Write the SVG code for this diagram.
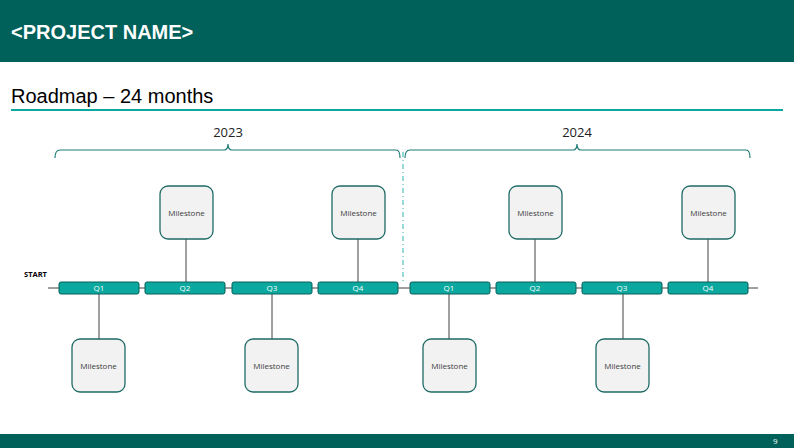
<svg xmlns="http://www.w3.org/2000/svg" width="794" height="448" viewBox="0 0 794 448">
<style>
text{font-family:"Open Sans","Liberation Sans",sans-serif}
text.h{font-family:"Liberation Sans",Arial,sans-serif}
.q{fill:#0AA89E;stroke:#0B5F59;stroke-width:1}
.qt{fill:#fff;font-size:8px;text-anchor:middle}
.m{fill:#F2F2F2;stroke:#1E6B66;stroke-width:1.3}
.mt{fill:#404040;font-size:8px;text-anchor:middle}
.c{stroke:#404040;stroke-width:1;fill:none}
.br{stroke:#1E7B74;stroke-width:1.2;fill:none}
</style>
<rect width="794" height="448" fill="#fff"/>
<rect width="794" height="62" fill="#00605A"/>
<text class="h" x="11" y="39" font-size="20" font-weight="bold" fill="#fff">&lt;PROJECT NAME&gt;</text>
<text class="h" x="11" y="103" font-size="20" fill="#000">Roadmap – 24 months</text>
<rect x="11" y="109" width="772" height="2" fill="#0AA89E"/>
<rect y="434" width="794" height="14" fill="#00605A"/>
<text x="773" y="444" font-size="8" fill="#fff">9</text>
<text x="228" y="137" font-size="13" text-anchor="middle" fill="#222">2023</text>
<text x="577" y="137" font-size="13" text-anchor="middle" fill="#222">2024</text>
<path class="br" d="M55 158 Q55 150 60 150 L224 150 Q228 150 228 144 Q228 150 232 150 L396 150 Q400 150 400 158"/>
<path class="br" d="M405 158 Q405 150 410 150 L573 150 Q577 150 577 144 Q577 150 581 150 L746 150 Q750 150 750 158"/>
<line x1="403" y1="152" x2="403" y2="282" stroke="#2BB5AC" stroke-width="1" stroke-dasharray="5,3,1,3"/>
<text x="24" y="277" font-size="7.5" font-weight="bold" fill="#000">START</text>
<g id="connectors">
<line class="c" x1="48" y1="288" x2="758" y2="288" stroke="#777"/>
<line class="c" x1="186" y1="239" x2="186" y2="282"/>
<line class="c" x1="358" y1="239" x2="358" y2="282"/>
<line class="c" x1="535" y1="239" x2="535" y2="282"/>
<line class="c" x1="708" y1="239" x2="708" y2="282"/>
<line class="c" x1="99" y1="294" x2="99" y2="339"/>
<line class="c" x1="272" y1="294" x2="272" y2="339"/>
<line class="c" x1="449" y1="294" x2="449" y2="339"/>
<line class="c" x1="623" y1="294" x2="623" y2="339"/>
</g>
<g id="q1a"><rect class="q" x="59" y="282" width="80" height="12" rx="2"/><text class="qt" x="99" y="291">Q1</text></g>
<g id="q2a"><rect class="q" x="145" y="282" width="80" height="12" rx="2"/><text class="qt" x="185" y="291">Q2</text></g>
<g id="q3a"><rect class="q" x="232" y="282" width="80" height="12" rx="2"/><text class="qt" x="272" y="291">Q3</text></g>
<g id="q4a"><rect class="q" x="318" y="282" width="80" height="12" rx="2"/><text class="qt" x="358" y="291">Q4</text></g>
<g id="q1b"><rect class="q" x="410" y="282" width="80" height="12" rx="2"/><text class="qt" x="449" y="291">Q1</text></g>
<g id="q2b"><rect class="q" x="496" y="282" width="80" height="12" rx="2"/><text class="qt" x="535" y="291">Q2</text></g>
<g id="q3b"><rect class="q" x="582" y="282" width="80" height="12" rx="2"/><text class="qt" x="622" y="291">Q3</text></g>
<g id="q4b"><rect class="q" x="668" y="282" width="80" height="12" rx="2"/><text class="qt" x="708" y="291">Q4</text></g>
<g id="m1"><rect class="m" x="160" y="186" width="53" height="53" rx="8"/><text class="mt" x="186.5" y="216">Milestone</text></g>
<g id="m2"><rect class="m" x="332" y="186" width="53" height="53" rx="8"/><text class="mt" x="358.5" y="216">Milestone</text></g>
<g id="m3"><rect class="m" x="509" y="186" width="53" height="53" rx="8"/><text class="mt" x="535.5" y="216">Milestone</text></g>
<g id="m4"><rect class="m" x="682" y="186" width="53" height="53" rx="8"/><text class="mt" x="708.5" y="216">Milestone</text></g>
<g id="m5"><rect class="m" x="72" y="339" width="53" height="53" rx="8"/><text class="mt" x="98.5" y="369">Milestone</text></g>
<g id="m6"><rect class="m" x="245" y="339" width="53" height="53" rx="8"/><text class="mt" x="271.5" y="369">Milestone</text></g>
<g id="m7"><rect class="m" x="423" y="339" width="53" height="53" rx="8"/><text class="mt" x="449.5" y="369">Milestone</text></g>
<g id="m8"><rect class="m" x="596" y="339" width="53" height="53" rx="8"/><text class="mt" x="622.5" y="369">Milestone</text></g>
</svg>
